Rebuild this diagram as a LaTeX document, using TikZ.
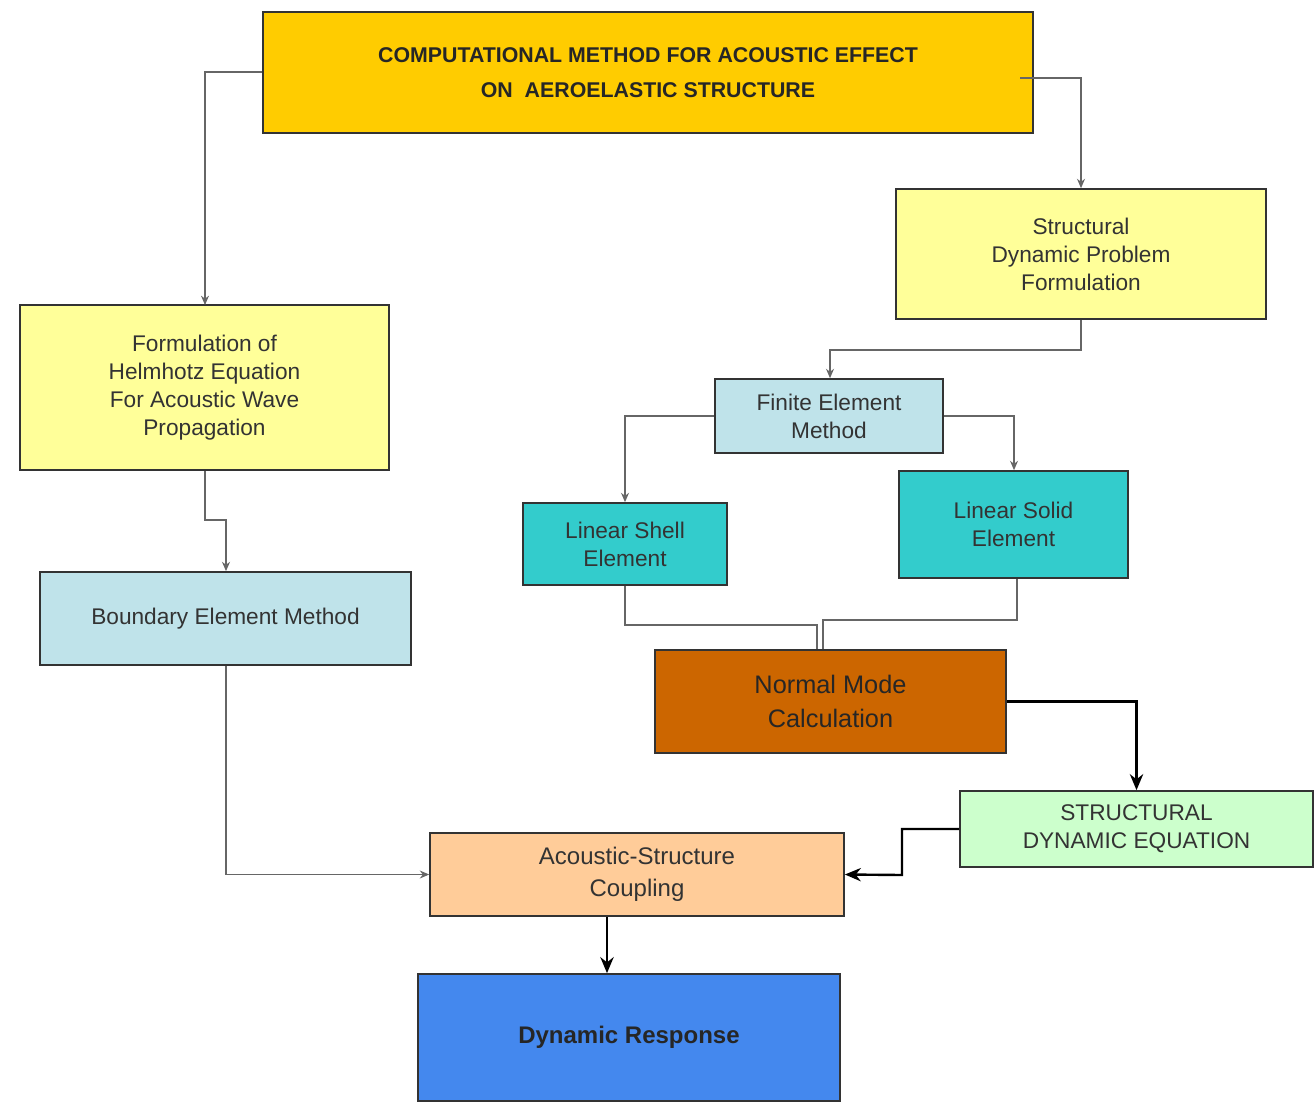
\documentclass[tikz,border=0pt]{standalone}
\usepackage{fontspec}
\setmainfont{Liberation Sans}
\usetikzlibrary{arrows.meta}
\definecolor{gold}{HTML}{FFCC00}
\definecolor{ly}{HTML}{FFFF99}
\definecolor{lb}{HTML}{BFE3EA}
\definecolor{teal2}{HTML}{33CCCC}
\definecolor{org}{HTML}{CC6600}
\definecolor{lg}{HTML}{CCFFCC}
\definecolor{peach}{HTML}{FFCC99}
\definecolor{blu}{HTML}{4488EE}
\begin{document}
\begin{tikzpicture}[x=0.75pt,y=-0.75pt,
 box/.style={draw=black!80,line width=1.3pt,align=center,font=\fontsize{17}{21}\selectfont,text=black!80},
 thin/.style={draw=black!60,line width=0.8pt,-{Stealth[length=7pt,width=6pt]}},
 thk/.style={draw=black,line width=1.8pt,-{Stealth[length=12pt,width=10pt]}}]
\useasboundingbox (0,0) rectangle (1316,1106);
\newcommand{\bx}[7]{\node[box,fill=#6,minimum width={(#4-#2)*0.75pt},minimum height={(#5-#3)*0.75pt},#7] (#1) at ({(#2+#4)/2},{(#3+#5)/2}) {};}
\bx{top}{263}{12}{1033}{133}{gold}{}
\node[font=\bfseries\fontsize{16}{26}\selectfont,align=center,text=black!85] at (top) {COMPUTATIONAL METHOD FOR ACOUSTIC EFFECT\\ON\ \ AEROELASTIC STRUCTURE};
\bx{sdp}{896}{189}{1266}{319}{ly}{}
\node[box,draw=none] at (sdp) {Structural\\Dynamic Problem\\Formulation};
\bx{hel}{20}{305}{389}{470}{ly}{}
\node[box,draw=none] at (hel) {Formulation of\\Helmhotz Equation\\For Acoustic Wave\\Propagation};
\bx{fem}{715}{379}{943}{453}{lb}{}
\node[box,draw=none] at (fem) {Finite Element\\Method};
\bx{shell}{523}{503}{727}{585}{teal2}{}
\node[box,draw=none] at (shell) {Linear Shell\\Element};
\bx{solid}{899}{471}{1128}{578}{teal2}{}
\node[box,draw=none] at (solid) {Linear Solid\\Element};
\bx{bem}{40}{572}{411}{665}{lb}{}
\node[box,draw=none] at (bem) {Boundary Element Method};
\bx{nm}{655}{650}{1006}{753}{org}{}
\node[box,draw=none,font=\fontsize{19}{26}\selectfont,text=black!85] at (nm) {Normal Mode\\Calculation};
\bx{sde}{960}{791}{1313}{867}{lg}{}
\node[box,draw=none] at (sde) {STRUCTURAL\\DYNAMIC EQUATION};
\bx{asc}{430}{833}{844}{916}{peach}{}
\node[box,draw=none,font=\fontsize{18}{24}\selectfont] at (asc) {Acoustic-Structure\\Coupling};
\bx{dr}{418}{974}{840}{1101}{blu}{}
\node[box,draw=none,font=\bfseries\fontsize{18}{22}\selectfont,text=black!85] at (dr) {Dynamic Response};

\draw[thin] (top.west|-0,72) -| (205,305);
\draw[thin] (1020,78) -| (sdp.north);
\draw[thin] (sdp.south) |- (830,350) -- (fem.north-|830,0);
\draw[thin] (fem.west) -| (shell.north);
\draw[thin] (fem.east) -| (solid.north-|1014,0);
\draw[thin] (hel.south-|205,0) |- (226,520) -- (bem.north-|226,0);
\draw[draw=black!60,line width=0.8pt] (shell.south) |- (817,625) -- (nm.north-|817,0);
\draw[draw=black!60,line width=0.8pt] (solid.south-|1017,0) |- (823,620) -- (nm.north-|823,0);
\draw[thk] (nm.east) -| (sde.north);
\draw[thk] (sde.west) -| (902,875) -- (asc.east);
\draw[thin] (bem.south-|226,0) |- (asc.west);
\draw[thk] (asc.south-|607,0) -- (dr.north-|607,0);
\end{tikzpicture}
\end{document}
